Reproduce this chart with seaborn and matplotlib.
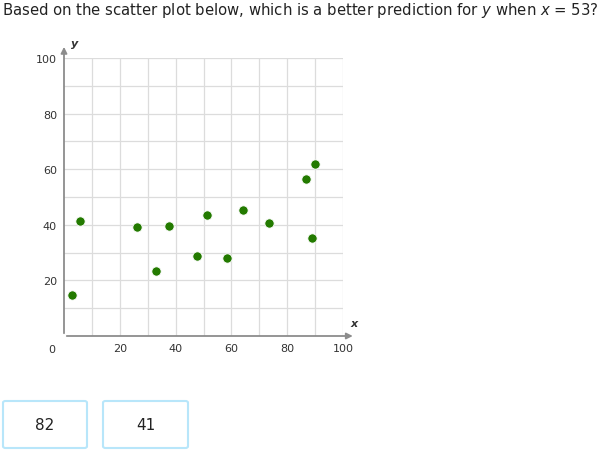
import numpy as np
import pandas as pd
import matplotlib
matplotlib.use("Agg")
import matplotlib.pyplot as plt
import seaborn as sns
from matplotlib.patches import FancyBboxPatch

x_vals = [2.9, 5.8, 26.3, 32.9, 37.7, 47.7, 51.3, 58.6, 64.2, 73.3, 86.6, 89.9, 88.9]
y_vals = [14.8, 41.3, 39.3, 23.4, 39.5, 28.7, 43.5, 28.1, 45.3, 40.6, 56.4, 62.0, 35.2]
tick_vals = [20, 40, 60, 80, 100]
answers = ["82", "41"]
question = "Based on the scatter plot below, which is a better prediction for $\\mathit{y}$ when $\\mathit{x}$ = 53?"

sns.set_style("white")
plt.rcParams['font.family'] = ['DejaVu Sans']
plt.rcParams['mathtext.fontset'] = 'dejavusans'

df = pd.DataFrame({"x": x_vals, "y": y_vals})

fig = plt.figure(figsize=(6, 4.52), dpi=100)
ax = fig.add_axes([64 / 600, 1 - 337 / 452, 279 / 600, 278 / 452])

# Grade
for v in range(10, 101, 10):
    ax.axvline(v, color="#dcdcdc", lw=0.9, zorder=0)
    ax.axhline(v, color="#dcdcdc", lw=0.9, zorder=0)

sns.scatterplot(data=df, x="x", y="y", ax=ax, color="#237a00", s=45,
                edgecolor="white", linewidth=0.6, zorder=3, clip_on=False)

ax.set_xlim(0, 100)
ax.set_ylim(0, 100)
for s in ax.spines.values():
    s.set_visible(False)

# Eixos com setas
ax.annotate("", xy=(104.5, 0), xytext=(0, 0), annotation_clip=False,
            arrowprops=dict(arrowstyle="-|>", color="#8c8c8c", lw=1.3, mutation_scale=9))
ax.annotate("", xy=(0, 105), xytext=(0, 0), annotation_clip=False,
            arrowprops=dict(arrowstyle="-|>", color="#8c8c8c", lw=1.3, mutation_scale=9))
ax.text(104, 3, "x", fontsize=8, fontweight="bold", fontstyle="italic",
        color="#333333", ha="center", va="bottom", clip_on=False)
ax.text(2.5, 105.5, "y", fontsize=8, fontweight="bold", fontstyle="italic",
        color="#333333", ha="left", va="center", clip_on=False)

ax.set_xticks(tick_vals)
ax.set_yticks(tick_vals)
ax.set_xticklabels([str(t) for t in tick_vals])
ax.set_yticklabels([str(t) for t in tick_vals])
ax.tick_params(length=0, labelsize=8, labelcolor="#333333", pad=5)
ax.set_xlabel("")
ax.set_ylabel("")
ax.text(-3, -3, "0", fontsize=8, color="#333333", ha="right", va="top")

# Pergunta
fig.text(2 / 600, 1 - 10 / 452, question, fontsize=10.7, color="#222222",
         ha="left", va="center")

# Botões de resposta
boxes = [(3, 402, 84, 47), (103, 402, 85, 47)]
for (bx, by, bw, bh), lab in zip(boxes, answers):
    p = FancyBboxPatch((bx / 600, 1 - (by + bh) / 452), bw / 600, bh / 452,
                       boxstyle="round,pad=0,rounding_size=0.004",
                       transform=fig.transFigure, facecolor="white",
                       edgecolor="#b8e6fa", lw=1.5)
    fig.patches.append(p)
    fig.text((bx + bw / 2) / 600, 1 - (by + bh / 2) / 452, lab, fontsize=11,
             color="#222222", ha="center", va="center")

fig.savefig("out.png", dpi=100)
